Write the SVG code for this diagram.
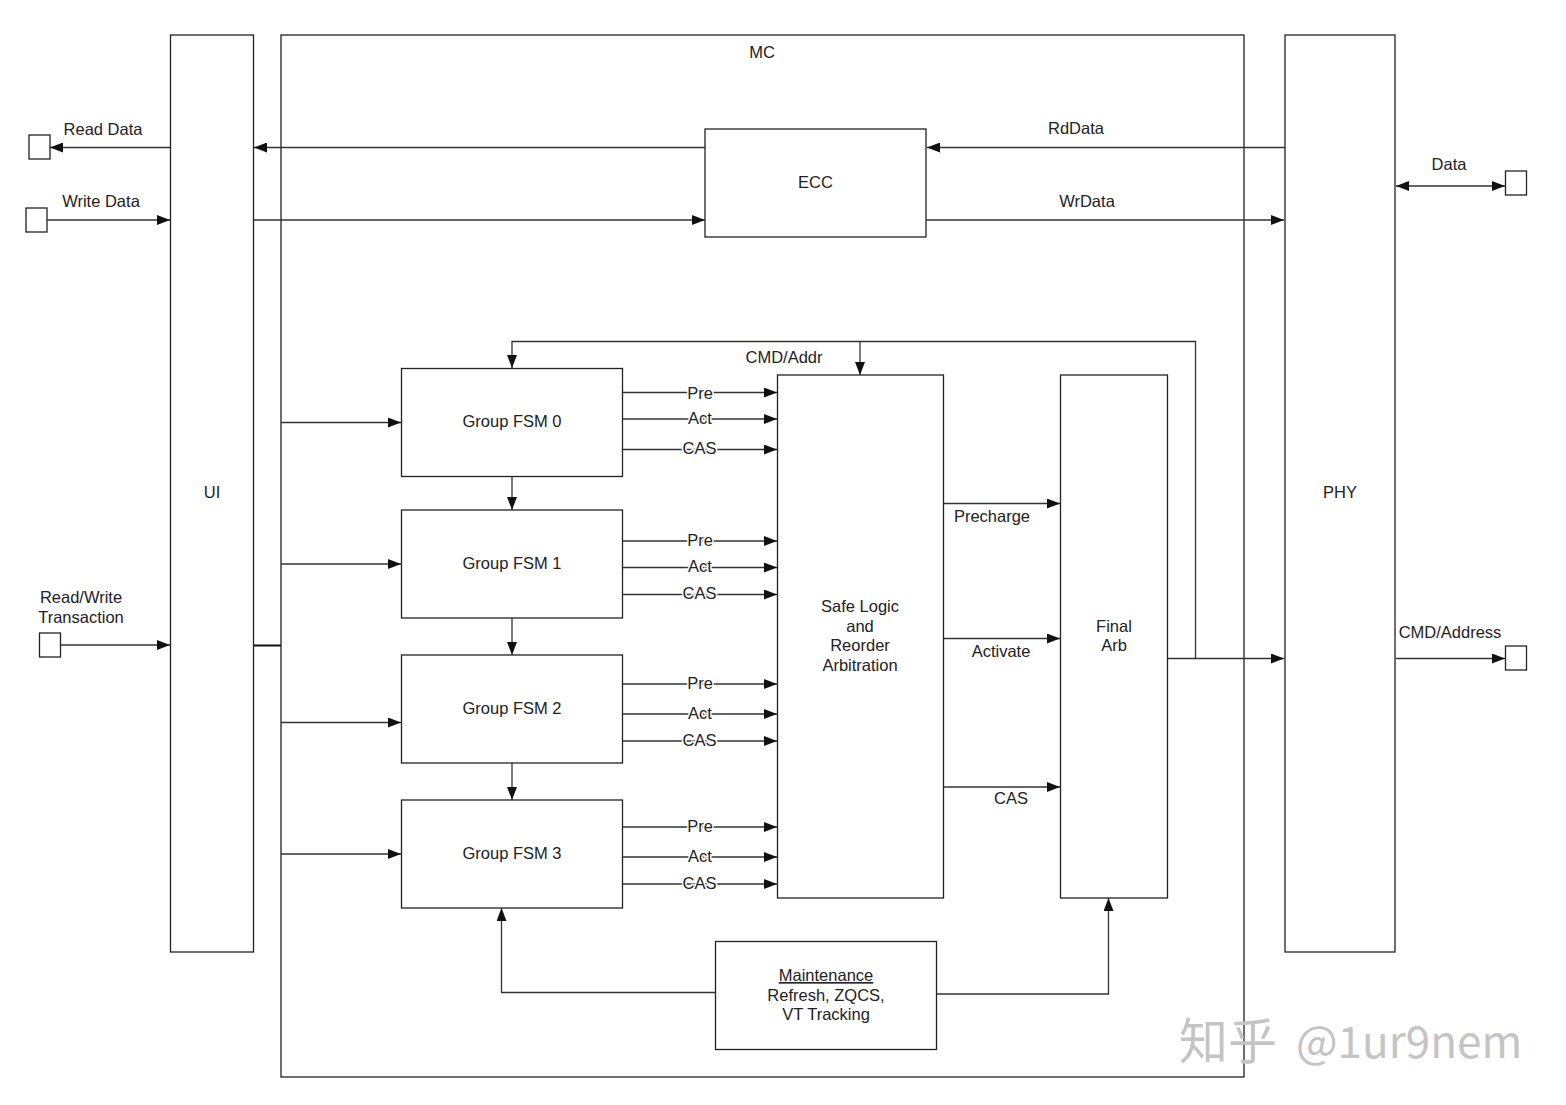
<svg xmlns="http://www.w3.org/2000/svg" width="1566" height="1105" viewBox="0 0 1566 1105">
<style>
text{font-family:"Liberation Sans",Arial,sans-serif;font-size:16.5px;fill:#222;text-anchor:middle}
.b{fill:#fff;stroke:#222;stroke-width:1.3}
.c{fill:none;stroke:#333;stroke-width:1.3}
.a{marker-end:url(#ah)}
.s{marker-start:url(#as)}
.l{paint-order:stroke;stroke:#fff;stroke-width:3px}
.wm{font-family:"Noto Sans CJK SC","Liberation Sans",sans-serif;fill:#c4c4c4;text-anchor:start}
</style>
<defs>
<marker id="ah" viewBox="0 0 13 10" refX="13" refY="5" markerWidth="13" markerHeight="10" markerUnits="userSpaceOnUse" orient="auto"><path d="M0 0L13 5L0 10Z" fill="#111"/></marker>
<marker id="as" viewBox="0 0 13 10" refX="0" refY="5" markerWidth="13" markerHeight="10" markerUnits="userSpaceOnUse" orient="auto"><path d="M13 0L0 5L13 10Z" fill="#111"/></marker>
</defs>
<rect width="1566" height="1105" fill="#fff"/>
<g id="mc"><rect class="b" x="281" y="35" width="963" height="1042"/><text x="762" y="58">MC</text></g>
<g id="ui"><rect class="b" x="170.500" y="35" width="83" height="917"/><text x="212" y="498">UI</text></g>
<g id="phy"><rect class="b" x="1285" y="35" width="110" height="917"/><text x="1340" y="498">PHY</text></g>
<g id="ecc"><rect class="b" x="705" y="129" width="221" height="108"/><text x="815.500" y="188">ECC</text></g>
<g id="fsm0"><rect class="b" x="401.500" y="368.500" width="221" height="108"/><text x="512" y="427">Group FSM 0</text></g>
<g id="fsm1"><rect class="b" x="401.500" y="510" width="221" height="108"/><text x="512" y="569">Group FSM 1</text></g>
<g id="fsm2"><rect class="b" x="401.500" y="655" width="221" height="108"/><text x="512" y="714">Group FSM 2</text></g>
<g id="fsm3"><rect class="b" x="401.500" y="800" width="221" height="108"/><text x="512" y="859">Group FSM 3</text></g>
<g id="safe"><rect class="b" x="777.500" y="375" width="166" height="523"/><text x="860" y="612">Safe Logic</text><text x="860" y="632">and</text><text x="860" y="651">Reorder</text><text x="860" y="671">Arbitration</text></g>
<g id="arb"><rect class="b" x="1060.500" y="375" width="107" height="523"/><text x="1114" y="632">Final</text><text x="1114" y="651">Arb</text></g>
<g id="maint"><rect class="b" x="715.500" y="941.500" width="221" height="108"/><text x="826" y="981" text-decoration="underline">Maintenance</text><text x="826" y="1001">Refresh, ZQCS,</text><text x="826" y="1020">VT Tracking</text></g>
<g id="port-read"><rect class="b" x="29" y="135" width="21" height="24"/></g>
<g id="port-write"><rect class="b" x="26" y="208" width="21" height="24"/></g>
<g id="port-trans"><rect class="b" x="39.500" y="633" width="21" height="24"/></g>
<g id="port-data"><rect class="b" x="1505.500" y="171" width="21" height="24"/></g>
<g id="port-cmd"><rect class="b" x="1505.500" y="646" width="21" height="24"/></g>
<g id="connectors">
<path class="c a" d="M170 147.500H50"/>
<path class="c a" d="M705 147.500H254"/>
<path class="c a" d="M1285 147.500H927"/>
<path class="c a" d="M47 220H170"/>
<path class="c a" d="M254 220H705"/>
<path class="c a" d="M926 220H1284"/>
<path class="c a s" d="M1396 186H1505"/>
<path class="c a" d="M61 645H170"/>
<path d="M254 645.500H281" fill="none" stroke="#111" stroke-width="2"/>
<path class="c a" d="M281 422.500H401"/>
<path class="c a" d="M281 564H401"/>
<path class="c a" d="M281 722.500H401"/>
<path class="c a" d="M281 854H401"/>
<path class="c a" d="M512 476V510"/>
<path class="c a" d="M512 618V655"/>
<path class="c a" d="M512 763V800"/>
<path class="c a" d="M623 392.500H777"/>
<path class="c a" d="M623 419H777"/>
<path class="c a" d="M623 449.500H777"/>
<path class="c a" d="M623 541H777"/>
<path class="c a" d="M623 567.500H777"/>
<path class="c a" d="M623 594.500H777"/>
<path class="c a" d="M623 684H777"/>
<path class="c a" d="M623 714H777"/>
<path class="c a" d="M623 741H777"/>
<path class="c a" d="M623 827H777"/>
<path class="c a" d="M623 857H777"/>
<path class="c a" d="M623 884H777"/>
<path class="c a" d="M944 503.500H1060"/>
<path class="c a" d="M944 638.500H1060"/>
<path class="c a" d="M944 787H1060"/>
<path class="c a" d="M1168 658.500H1284"/>
<path class="c a" d="M1396 658.500H1505"/>
<path class="c a" d="M1195.500 658V341.500H512V368"/>
<path class="c a" d="M860 341.500V375"/>
<path class="c a" d="M715 992.500H501.500V908"/>
<path class="c a" d="M937 994H1108.500V898"/>
</g>
<g id="labels">
<text x="103" y="135">Read Data</text>
<text x="101" y="207">Write Data</text>
<text x="81" y="603">Read/Write</text>
<text x="81" y="623">Transaction</text>
<text x="1076" y="134">RdData</text>
<text x="1087" y="207">WrData</text>
<text x="1449" y="170">Data</text>
<text x="1450" y="638">CMD/Address</text>
<text x="784" y="363">CMD/Addr</text>
<text x="992" y="522">Precharge</text>
<text x="1001" y="657">Activate</text>
<text x="1011" y="804">CAS</text>
<text class="l" x="700" y="399">Pre</text><text class="l" x="700" y="424">Act</text><text class="l" x="699.500" y="454">CAS</text>
<text class="l" x="700" y="546">Pre</text><text class="l" x="700" y="572">Act</text><text class="l" x="699.500" y="599">CAS</text>
<text class="l" x="700" y="689">Pre</text><text class="l" x="700" y="719">Act</text><text class="l" x="699.500" y="746">CAS</text>
<text class="l" x="700" y="832">Pre</text><text class="l" x="700" y="862">Act</text><text class="l" x="699.500" y="889">CAS</text>
</g>
<g id="watermark"><text class="wm" style="font-size:49px" x="1179" y="1059">知乎</text><text class="wm" style="font-size:44px" x="1296" y="1058">@1ur9nem</text></g>
</svg>
